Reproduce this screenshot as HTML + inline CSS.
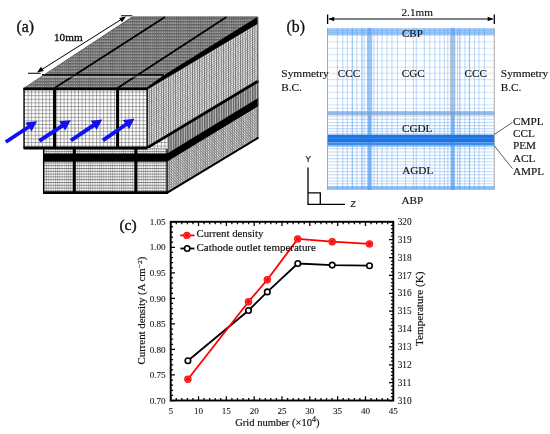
<!DOCTYPE html>
<html><head><meta charset="utf-8"><title>Figure</title>
<style>
html,body{margin:0;padding:0;background:#fff;}
body{width:550px;height:434px;overflow:hidden;}
svg{display:block}
text{font-family:"Liberation Serif",serif;fill:#111}
.sans{font-family:"Liberation Sans",sans-serif}
#c text{stroke:#111;stroke-width:.16px}
#c text.tk{stroke-width:.08px}
#a text,#b text{stroke:#111;stroke-width:.15px}
</style></head><body>
<svg width="550" height="434" viewBox="0 0 550 434">
<defs>
<pattern id="pFront" width="3.6" height="3.6" patternUnits="userSpaceOnUse" x="24" y="88">
<rect width="3.6" height="3.6" fill="#fff"/><path d="M0 .5H3.6M.5 0V3.6" stroke="#666" stroke-width="0.55"/></pattern>
<pattern id="pLow" width="2.2" height="2.8" patternUnits="userSpaceOnUse">
<rect width="2.2" height="2.8" fill="#fff"/><path d="M.5 0V2.8" stroke="#666" stroke-width="0.5"/><path d="M0 .5H2.2" stroke="#555" stroke-width="0.6"/></pattern>
<pattern id="pTop" width="2.2" height="1.5" patternUnits="userSpaceOnUse">
<rect width="2.2" height="1.5" fill="#b6b6b6"/><path d="M0 .4H2.2" stroke="#585858" stroke-width="0.7"/><path d="M-.3 1.5L2 0" stroke="#585858" stroke-width="0.6"/></pattern>
<pattern id="pSide" width="2.4" height="2.2" patternUnits="userSpaceOnUse" patternTransform="matrix(1 -0.6 0 1 0 0)">
<rect width="2.4" height="2.2" fill="#f2f2f2"/><path d="M0 .5H2.4" stroke="#808080" stroke-width="0.65"/><path d="M.5 0V2.2" stroke="#606060" stroke-width="0.75"/></pattern>
<pattern id="pSide2" width="1.8" height="1.6" patternUnits="userSpaceOnUse" patternTransform="matrix(1 -0.6 0 1 0 0)">
<rect width="1.8" height="1.6" fill="#ececec"/><path d="M0 .5H1.8" stroke="#707070" stroke-width="0.6"/><path d="M.5 0V1.6" stroke="#707070" stroke-width="0.6"/></pattern>
<pattern id="pHatch" width="2.4" height="4" patternUnits="userSpaceOnUse">
<rect width="2.4" height="4" fill="#c2c2c2"/><path d="M.7 0V4" stroke="#4e4e4e" stroke-width="1.2"/></pattern>
<radialGradient id="rg" cx=".45" cy=".4" r=".6"><stop offset="0" stop-color="#ff5a5a"/><stop offset=".6" stop-color="#f41010"/><stop offset="1" stop-color="#f00000"/></radialGradient>
</defs>

<g id="a">
<polygon points="24.2,88.5 147,88.5 257.6,16.9 132.3,16.9" fill="url(#pTop)"/>
<polygon points="147,88.5 257.6,20 258.4,81 147.5,147.6" fill="url(#pSide)"/>
<polygon points="147.5,147.6 167,135.8 167,153.4 147.5,153.4" fill="url(#pFront)"/>
<polygon points="167,135.8 258.4,81 258.4,98 167,153.4" fill="url(#pHatch)"/>
<polygon points="167,160.9 258.4,105.4 258.4,137.8 167,193" fill="url(#pSide2)"/>
<polygon points="167,153.4 258.4,97.8 258.4,106 167,161.7" fill="#000"/>
<path d="M147.5 147.6L258.4 81" stroke="#000" stroke-width="2.7" fill="none"/>
<polygon points="163,75.8 257.6,16.8 257.6,23.9 147,89.8 147,87.3" fill="#000"/>
<rect x="24" y="88" width="123" height="60" fill="url(#pFront)"/>
<rect x="43" y="148" width="124" height="45" fill="url(#pLow)"/>
<rect x="43" y="153.4" width="124.5" height="8.3" fill="#000"/>
<path d="M23.5 88.9H147.5M23.5 148H147.5" stroke="#000" stroke-width="2.8" fill="none"/>
<path d="M43 192.6H168" stroke="#000" stroke-width="2.8" fill="none"/>
<path d="M24 88V148M147.2 88V148M43.6 148V193M167 149V193" stroke="#000" stroke-width="1.3" fill="none"/>
<path d="M54.6 88V148M117.6 88V148M74.3 148V193M135.9 148V193" stroke="#000" stroke-width="3" fill="none"/>
<path d="M54.6 88L165 16.9M117.6 88L226.5 16.9" stroke="#000" stroke-width="1.8" fill="none"/>
<path d="M42 74.9H164" stroke="#111" stroke-width="1.9" fill="none"/>
<path d="M41 76.9H161" stroke="#fff" stroke-opacity=".4" stroke-width="1.4" fill="none"/>
<path d="M24.2 88L132.3 16.9H257.6" stroke="#333" stroke-width="0.8" fill="none"/>
<path d="M257.9 17V137.8" stroke="#444" stroke-width="0.9" fill="none"/>
<path d="M167 192.8L258.4 137.6" stroke="#000" stroke-width="2" fill="none"/>
<path d="M38.5 71.6L124.5 17.4" stroke="#000" stroke-width="1" fill="none"/>
<path d="M28 73.3H40.7M121 15.8H132.3" stroke="#000" stroke-width="1.1" fill="none"/>
<polygon points="37,72.6 43.8,71 41,66.8" fill="#000"/>
<polygon points="126,16.4 119.2,18 122,22.2" fill="#000"/>
<text x="16.5" y="32.3" font-size="15.8" style="stroke-width:.35px">(a)</text>
<text x="54" y="40.7" font-size="11.2" style="stroke-width:.35px">10mm</text>
<polygon points="6.9,143.6 29.6,128.6 31.5,131.5 37.1,121.3 25.5,122.5 27.4,125.4 4.7,140.4" fill="#1010f0"/>
<polygon points="40.4,142.4 63.2,127.5 65.1,130.4 70.8,120.2 59.2,121.3 61.1,124.2 38.2,139.2" fill="#1010f0"/>
<polygon points="72.0,142.1 94.7,126.9 96.7,129.7 102.2,119.5 90.6,120.8 92.6,123.6 69.8,138.9" fill="#1010f0"/>
<polygon points="104.0,141.9 127.1,126.1 129.0,129.0 134.5,118.7 122.9,120.1 124.9,122.9 101.8,138.7" fill="#1010f0"/>
</g>
<g id="b">
<rect x="327.5" y="28.2" width="166.8" height="6.9" fill="rgb(70,150,240)" opacity=".52"/>
<rect x="327.5" y="186.1" width="166.8" height="3.7" fill="rgb(70,150,240)" opacity=".62"/>
<rect x="327.5" y="111.6" width="166.8" height="3.2" fill="rgb(70,150,240)" opacity=".62"/>
<path d="M337.4 27.8V189.8M342.8 27.8V189.8M347.3 27.8V189.8M356.9 27.8V189.8M364.2 27.8V189.8M374.0 27.8V189.8M377.4 27.8V189.8M382.0 27.8V189.8M387.0 27.8V189.8M392.0 27.8V189.8M397.5 27.8V189.8M405.5 27.8V189.8M413.4 27.8V189.8M416.3 27.8V189.8M424.3 27.8V189.8M429.8 27.8V189.8M434.8 27.8V189.8M439.8 27.8V189.8M444.4 27.8V189.8M447.8 27.8V189.8M457.6 27.8V189.8M464.9 27.8V189.8M474.5 27.8V189.8M479.0 27.8V189.8M484.4 27.8V189.8" stroke="rgb(70,150,240)" stroke-opacity=".34" stroke-width="1.1" fill="none"/>
<path d="M352.3 27.8V189.8M361.9 27.8V189.8M459.9 27.8V189.8M469.5 27.8V189.8" stroke="rgb(70,150,240)" stroke-opacity=".55" stroke-width="1.2" fill="none"/>
<rect x="367.5" y="27.8" width="4.1" height="162" fill="rgb(70,150,240)" opacity=".55"/>
<rect x="367.5" y="115" width="4.1" height="74.8" fill="rgb(70,150,240)" opacity=".3"/>
<rect x="450.7" y="27.8" width="4.1" height="162" fill="rgb(70,150,240)" opacity=".55"/>
<rect x="450.7" y="115" width="4.1" height="74.8" fill="rgb(70,150,240)" opacity=".3"/>
<path d="M327.5 30.5H494.3M327.5 32.8H494.3M327.5 35.2H494.3M327.5 41.8H494.3M327.5 48.2H494.3M327.5 54.7H494.3M327.5 60.7H494.3M327.5 67.3H494.3M327.5 73.3H494.3M327.5 79.6H494.3M327.5 85.9H494.3M327.5 92.2H494.3M327.5 98.5H494.3M327.5 104.8H494.3M327.5 108.5H494.3" stroke="rgb(70,150,240)" stroke-opacity=".24" stroke-width="1.1" fill="none"/>
<path d="M327.5 116.0H494.3M327.5 119.2H494.3M327.5 122.5H494.3M327.5 125.6H494.3M327.5 128.6H494.3M327.5 131.2H494.3M327.5 148.8H494.3M327.5 152.0H494.3M327.5 155.3H494.3M327.5 158.6H494.3M327.5 161.8H494.3M327.5 165.0H494.3M327.5 168.3H494.3M327.5 171.5H494.3M327.5 174.8H494.3M327.5 178.0H494.3M327.5 181.0H494.3M327.5 183.8H494.3" stroke="rgb(70,150,240)" stroke-opacity=".33" stroke-width="1.1" fill="none"/>
<rect x="327.5" y="134.9" width="166.8" height="7.4" fill="#1c74e4"/>
<rect x="327.5" y="142.3" width="166.8" height="3.2" fill="#3f8deb"/>
<rect x="327.5" y="137.8" width="166.8" height="1.2" fill="#3585e8"/>
<rect x="327.5" y="145.5" width="166.8" height="1.6" fill="rgb(70,150,240)" opacity=".45"/>
<rect x="327.5" y="133.4" width="166.8" height="1.5" fill="rgb(70,150,240)" opacity=".45"/>
<path d="M327.5 27.8V189.8M494.3 27.8V189.8" stroke="#949494" stroke-width="0.8" fill="none"/>
<path d="M367.4 35V114.6M371.7 35V114.6M450.6 35V114.6M454.9 35V114.6M327.5 111.6H494.3M327.5 114.7H494.3" stroke="#a4a4a4" stroke-width="0.6" fill="none"/>
<path d="M329 19H493" stroke="#000" stroke-width="1.1"/>
<path d="M327.6 14.5V24M494.3 14.5V24" stroke="#000" stroke-width="1.3"/>
<polygon points="328.6,19 334.2,16.8 334.2,21.2" fill="#000"/><polygon points="493.3,19 487.7,16.8 487.7,21.2" fill="#000"/>
<text x="286.6" y="32.3" font-size="15.8" style="stroke-width:.3px">(b)</text>
<text x="401.5" y="16.2" font-size="11.2">2.1mm</text>
<text x="402" y="37" font-size="11">CBP</text>
<text x="337.8" y="77.1" font-size="11.2">CCC</text>
<text x="401.8" y="76.9" font-size="11.2">CGC</text>
<text x="464.6" y="77.1" font-size="11.2">CCC</text>
<text x="402" y="131.6" font-size="11.2">CGDL</text>
<text x="402.2" y="173.5" font-size="11.2">AGDL</text>
<text x="401.5" y="203.6" font-size="11.2">ABP</text>
<text x="281.3" y="77.1" font-size="11.4">Symmetry</text><text x="281.3" y="90.8" font-size="11.2">B.C.</text>
<text x="500.8" y="77.1" font-size="11.4">Symmetry</text><text x="500.8" y="90.8" font-size="11.2">B.C.</text>
<text x="513" y="124.9" font-size="11.2">CMPL</text>
<text x="513" y="137.4" font-size="11.2">CCL</text>
<text x="513" y="149.1" font-size="11.2">PEM</text>
<text x="513" y="161.8" font-size="11.2">ACL</text>
<text x="513" y="174.6" font-size="11.2">AMPL</text>
<path d="M494.3 134.4L512.5 122.4M494.3 145.8L512.5 168.7" stroke="#333" stroke-width="0.8" fill="none"/>
<path d="M308 167.4V204.3H345M308 192.9H320.3V204.3" stroke="#000" stroke-width="1.3" fill="none"/>
<text class="sans" x="305.2" y="161.8" font-size="8.8" fill="#222">Y</text><text class="sans" x="350.6" y="207" font-size="8.8" fill="#222">Z</text>
</g>
<g id="c" stroke="#111" stroke-width="0">
<rect x="170.7" y="221.8" width="222.6" height="178.7" fill="none" stroke="#000" stroke-width="1.9"/>
<path d="M170.70 400.5v-4.3M170.70 221.8v4.3M176.26 400.5v-2.4M176.26 221.8v2.4M181.83 400.5v-2.4M181.83 221.8v2.4M187.39 400.5v-2.4M187.39 221.8v2.4M192.96 400.5v-2.4M192.96 221.8v2.4M198.52 400.5v-4.3M198.52 221.8v4.3M204.09 400.5v-2.4M204.09 221.8v2.4M209.66 400.5v-2.4M209.66 221.8v2.4M215.22 400.5v-2.4M215.22 221.8v2.4M220.78 400.5v-2.4M220.78 221.8v2.4M226.35 400.5v-4.3M226.35 221.8v4.3M231.91 400.5v-2.4M231.91 221.8v2.4M237.48 400.5v-2.4M237.48 221.8v2.4M243.04 400.5v-2.4M243.04 221.8v2.4M248.61 400.5v-2.4M248.61 221.8v2.4M254.18 400.5v-4.3M254.18 221.8v4.3M259.74 400.5v-2.4M259.74 221.8v2.4M265.31 400.5v-2.4M265.31 221.8v2.4M270.87 400.5v-2.4M270.87 221.8v2.4M276.44 400.5v-2.4M276.44 221.8v2.4M282.00 400.5v-4.3M282.00 221.8v4.3M287.56 400.5v-2.4M287.56 221.8v2.4M293.13 400.5v-2.4M293.13 221.8v2.4M298.69 400.5v-2.4M298.69 221.8v2.4M304.26 400.5v-2.4M304.26 221.8v2.4M309.82 400.5v-4.3M309.82 221.8v4.3M315.39 400.5v-2.4M315.39 221.8v2.4M320.96 400.5v-2.4M320.96 221.8v2.4M326.52 400.5v-2.4M326.52 221.8v2.4M332.09 400.5v-2.4M332.09 221.8v2.4M337.65 400.5v-4.3M337.65 221.8v4.3M343.22 400.5v-2.4M343.22 221.8v2.4M348.78 400.5v-2.4M348.78 221.8v2.4M354.35 400.5v-2.4M354.35 221.8v2.4M359.91 400.5v-2.4M359.91 221.8v2.4M365.48 400.5v-4.3M365.48 221.8v4.3M371.04 400.5v-2.4M371.04 221.8v2.4M376.61 400.5v-2.4M376.61 221.8v2.4M382.17 400.5v-2.4M382.17 221.8v2.4M387.74 400.5v-2.4M387.74 221.8v2.4M393.30 400.5v-4.3M393.30 221.8v4.3M170.7 400.50h4.3M170.7 395.39h2.4M170.7 390.29h2.4M170.7 385.18h2.4M170.7 380.08h2.4M170.7 374.97h4.3M170.7 369.87h2.4M170.7 364.76h2.4M170.7 359.65h2.4M170.7 354.55h2.4M170.7 349.44h4.3M170.7 344.34h2.4M170.7 339.23h2.4M170.7 334.13h2.4M170.7 329.02h2.4M170.7 323.91h4.3M170.7 318.81h2.4M170.7 313.70h2.4M170.7 308.60h2.4M170.7 303.49h2.4M170.7 298.39h4.3M170.7 293.28h2.4M170.7 288.17h2.4M170.7 283.07h2.4M170.7 277.96h2.4M170.7 272.86h4.3M170.7 267.75h2.4M170.7 262.65h2.4M170.7 257.54h2.4M170.7 252.43h2.4M170.7 247.33h4.3M170.7 242.22h2.4M170.7 237.12h2.4M170.7 232.01h2.4M170.7 226.91h2.4M170.7 221.80h4.3M393.3 400.50h-4.3M393.3 396.93h-2.4M393.3 393.35h-2.4M393.3 389.78h-2.4M393.3 386.20h-2.4M393.3 382.63h-4.3M393.3 379.06h-2.4M393.3 375.48h-2.4M393.3 371.91h-2.4M393.3 368.33h-2.4M393.3 364.76h-4.3M393.3 361.19h-2.4M393.3 357.61h-2.4M393.3 354.04h-2.4M393.3 350.46h-2.4M393.3 346.89h-4.3M393.3 343.32h-2.4M393.3 339.74h-2.4M393.3 336.17h-2.4M393.3 332.59h-2.4M393.3 329.02h-4.3M393.3 325.45h-2.4M393.3 321.87h-2.4M393.3 318.30h-2.4M393.3 314.72h-2.4M393.3 311.15h-4.3M393.3 307.58h-2.4M393.3 304.00h-2.4M393.3 300.43h-2.4M393.3 296.85h-2.4M393.3 293.28h-4.3M393.3 289.71h-2.4M393.3 286.13h-2.4M393.3 282.56h-2.4M393.3 278.98h-2.4M393.3 275.41h-4.3M393.3 271.84h-2.4M393.3 268.26h-2.4M393.3 264.69h-2.4M393.3 261.11h-2.4M393.3 257.54h-4.3M393.3 253.97h-2.4M393.3 250.39h-2.4M393.3 246.82h-2.4M393.3 243.24h-2.4M393.3 239.67h-4.3M393.3 236.10h-2.4M393.3 232.52h-2.4M393.3 228.95h-2.4M393.3 225.37h-2.4M393.3 221.80h-4.3" stroke="#000" stroke-width="1.25" fill="none"/>
<text x="170.7" y="413.9" font-size="9.1" class="tk" text-anchor="middle">5</text>
<text x="198.5" y="413.9" font-size="9.1" class="tk" text-anchor="middle">10</text>
<text x="226.3" y="413.9" font-size="9.1" class="tk" text-anchor="middle">15</text>
<text x="254.2" y="413.9" font-size="9.1" class="tk" text-anchor="middle">20</text>
<text x="282.0" y="413.9" font-size="9.1" class="tk" text-anchor="middle">25</text>
<text x="309.8" y="413.9" font-size="9.1" class="tk" text-anchor="middle">30</text>
<text x="337.6" y="413.9" font-size="9.1" class="tk" text-anchor="middle">35</text>
<text x="365.5" y="413.9" font-size="9.1" class="tk" text-anchor="middle">40</text>
<text x="393.3" y="413.9" font-size="9.1" class="tk" text-anchor="middle">45</text>
<text x="165.6" y="403.6" font-size="9.1" class="tk" text-anchor="end">0.70</text>
<text x="165.6" y="378.1" font-size="9.1" class="tk" text-anchor="end">0.75</text>
<text x="165.6" y="352.5" font-size="9.1" class="tk" text-anchor="end">0.80</text>
<text x="165.6" y="327.0" font-size="9.1" class="tk" text-anchor="end">0.85</text>
<text x="165.6" y="301.5" font-size="9.1" class="tk" text-anchor="end">0.90</text>
<text x="165.6" y="276.0" font-size="9.1" class="tk" text-anchor="end">0.95</text>
<text x="165.6" y="250.4" font-size="9.1" class="tk" text-anchor="end">1.00</text>
<text x="165.6" y="224.9" font-size="9.1" class="tk" text-anchor="end">1.05</text>
<text x="397.7" y="403.6" font-size="9.3" class="tk">310</text>
<text x="397.7" y="385.7" font-size="9.3" class="tk">311</text>
<text x="397.7" y="367.9" font-size="9.3" class="tk">312</text>
<text x="397.7" y="350.0" font-size="9.3" class="tk">313</text>
<text x="397.7" y="332.1" font-size="9.3" class="tk">314</text>
<text x="397.7" y="314.2" font-size="9.3" class="tk">315</text>
<text x="397.7" y="296.4" font-size="9.3" class="tk">316</text>
<text x="397.7" y="278.5" font-size="9.3" class="tk">317</text>
<text x="397.7" y="260.6" font-size="9.3" class="tk">318</text>
<text x="397.7" y="242.8" font-size="9.3" class="tk">319</text>
<text x="397.7" y="224.9" font-size="9.3" class="tk">320</text>
<text x="235.2" y="425.7" font-size="10" textLength="84.3" lengthAdjust="spacingAndGlyphs">Grid number (×10<tspan font-size="7.5" dy="-3.8">4</tspan><tspan dy="3.8">)</tspan></text>
<text transform="translate(145,364.4) rotate(-90)" font-size="10" textLength="107.8" lengthAdjust="spacingAndGlyphs">Current density (A cm<tspan font-size="7" dy="-3.5">−2</tspan><tspan dy="3.5">)</tspan></text>
<text transform="translate(423,346) rotate(-90)" font-size="10" textLength="74.5" lengthAdjust="spacingAndGlyphs">Temperature (K)</text>
<text x="119.4" y="230" font-size="15.6" style="stroke-width:.4px">(c)</text>
<polyline points="187.9,360.8 248.5,310.5 267.3,291.9 297.8,263.5 332.2,265.1 369.5,265.7" fill="none" stroke="#000" stroke-width="1.8"/>
<polyline points="187.9,379.3 248.5,301.7 267.3,279.8 297.7,238.9 332.2,241.7 369.5,243.9" fill="none" stroke="#f00" stroke-width="1.8"/>
<circle cx="187.9" cy="360.8" r="2.75" fill="#fff" stroke="#000" stroke-width="1.6"/>
<circle cx="248.5" cy="310.5" r="2.75" fill="#fff" stroke="#000" stroke-width="1.6"/>
<circle cx="267.3" cy="291.9" r="2.75" fill="#fff" stroke="#000" stroke-width="1.6"/>
<circle cx="297.8" cy="263.5" r="2.75" fill="#fff" stroke="#000" stroke-width="1.6"/>
<circle cx="332.2" cy="265.1" r="2.75" fill="#fff" stroke="#000" stroke-width="1.6"/>
<circle cx="369.5" cy="265.7" r="2.75" fill="#fff" stroke="#000" stroke-width="1.6"/>
<circle cx="187.9" cy="379.3" r="3.7" fill="#f80808"/><circle cx="187.9" cy="379.3" r="2.4" fill="none" stroke="#ff6a6a" stroke-width=".6"/>
<circle cx="248.5" cy="301.7" r="3.7" fill="#f80808"/><circle cx="248.5" cy="301.7" r="2.4" fill="none" stroke="#ff6a6a" stroke-width=".6"/>
<circle cx="267.3" cy="279.8" r="3.7" fill="#f80808"/><circle cx="267.3" cy="279.8" r="2.4" fill="none" stroke="#ff6a6a" stroke-width=".6"/>
<circle cx="297.7" cy="238.9" r="3.7" fill="#f80808"/><circle cx="297.7" cy="238.9" r="2.4" fill="none" stroke="#ff6a6a" stroke-width=".6"/>
<circle cx="332.2" cy="241.7" r="3.7" fill="#f80808"/><circle cx="332.2" cy="241.7" r="2.4" fill="none" stroke="#ff6a6a" stroke-width=".6"/>
<circle cx="369.5" cy="243.9" r="3.7" fill="#f80808"/><circle cx="369.5" cy="243.9" r="2.4" fill="none" stroke="#ff6a6a" stroke-width=".6"/>
<path d="M180.3 235.4H194.5" stroke="#f00" stroke-width="1.8"/><circle cx="186.9" cy="235.4" r="3.6" fill="#f80808"/><circle cx="186.9" cy="235.4" r="2.4" fill="none" stroke="#ff6a6a" stroke-width=".6"/>
<path d="M180.4 248.5H194.5" stroke="#000" stroke-width="1.8"/><circle cx="187.2" cy="248.5" r="2.7" fill="#fff" stroke="#000" stroke-width="1.6"/>
<text x="196.5" y="237" font-size="10" textLength="66.8" lengthAdjust="spacingAndGlyphs">Current density</text>
<text x="196.5" y="250.6" font-size="10" textLength="119.4" lengthAdjust="spacingAndGlyphs">Cathode outlet temperature</text>
</g>
</svg></body></html>
